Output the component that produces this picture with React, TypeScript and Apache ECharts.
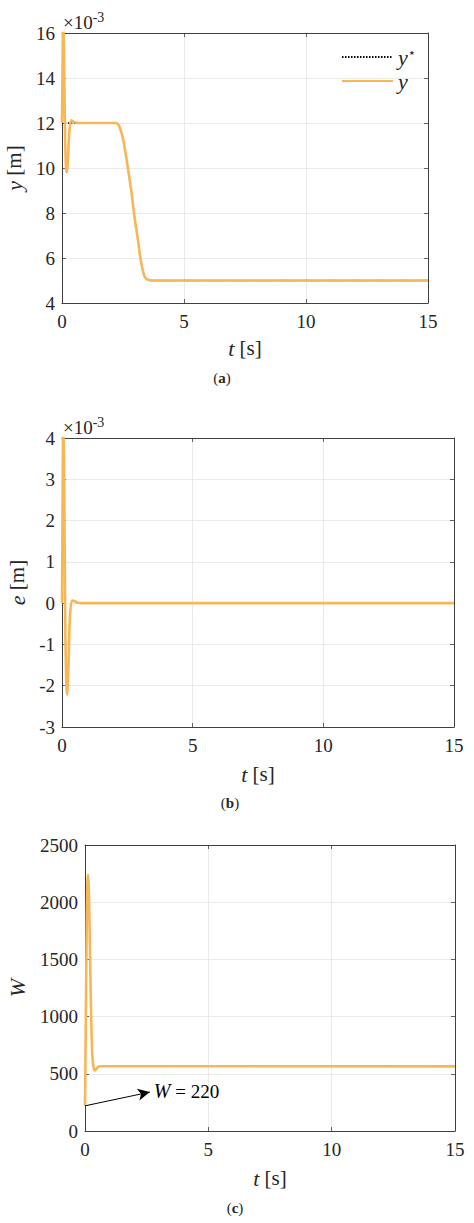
import React, { useEffect, useRef } from "react";
import * as echarts from "echarts";

// Panel (a): y and reference y* (units of 1e-3 m)
const yRefPts: [number, number][] = [
  [0, 12], [2.2, 12], [2.35, 11.85], [2.5, 11.3], [2.6, 10.7], [2.7, 10.0], [2.85, 8.9],
  [2.95, 8.0], [3.1, 6.9], [3.2, 6.1], [3.3, 5.5], [3.4, 5.15], [3.55, 5.02], [3.7, 5], [15, 5],
];
const yPts: [number, number][] = [
  [0, 12], [0.02, 14.2], [0.05, 16.8], [0.08, 15.2], [0.12, 11.8], [0.16, 10.1], [0.2, 9.8],
  [0.24, 10.3], [0.3, 11.6], [0.38, 12.12], [0.48, 12.05], [0.7, 12], [2.2, 12], [2.35, 11.85],
  [2.5, 11.3], [2.6, 10.7], [2.7, 10.0], [2.85, 8.9], [2.95, 8.0], [3.1, 6.9], [3.2, 6.1],
  [3.3, 5.5], [3.4, 5.15], [3.55, 5.02], [3.7, 5], [15, 5],
];
// Panel (b): tracking error e (units of 1e-3 m)
const ePts: [number, number][] = [
  [0, 0], [0.02, 2.2], [0.05, 4.5], [0.08, 3.2], [0.12, -0.2], [0.16, -1.9], [0.2, -2.22],
  [0.24, -1.7], [0.3, -0.4], [0.38, 0.06], [0.48, 0.05], [0.6, 0.01], [0.75, 0], [15, 0],
];
// Panel (c): W
const wPts: [number, number][] = [
  [0, 220], [0.03, 900], [0.07, 1800], [0.1, 2180], [0.13, 2240], [0.16, 2080], [0.2, 1600],
  [0.25, 1000], [0.3, 650], [0.36, 540], [0.42, 530], [0.5, 555], [0.6, 566], [15, 565],
];
const wAnnot = { from: [0, 220], to: [2.63, 340], label: "W = 220" };

const xTicks = { min: 0, max: 15, interval: 5 };
const yAxesRange = [
  { min: 4, max: 16, interval: 2 },
  { min: -3, max: 4, interval: 1 },
  { min: 0, max: 2500, interval: 500 },
];
const yNames = ["{i|y} [m]", "{i|e} [m]", "{i|W}"];

const SERIF = "'Liberation Serif', 'Times New Roman', 'DejaVu Serif', serif";
const AX = "#404040";
const TXT = "#262626";
const ORANGE = "#F8B757";
const GRIDC = "#e4e4e4";

export default function App() {
  const ref = useRef<HTMLDivElement>(null);
  useEffect(() => {
    if (!ref.current) return;
    const chart = echarts.init(ref.current, undefined, { renderer: "svg" });
    const grids = [
      { left: 62, top: 33, width: 366, height: 270, outerBoundsMode: "none", containLabel: false },
      { left: 62, top: 438, width: 392, height: 289, outerBoundsMode: "none", containLabel: false },
      { left: 85, top: 845, width: 370, height: 286, outerBoundsMode: "none", containLabel: false },
    ];
    const xNameGaps = [34, 36, 36];
    const yNameGaps = [31, 31, 57];
    const xAxis: any[] = [];
    const yAxis: any[] = [];
    const tick = { show: true, inside: true, length: 4, lineStyle: { color: AX, width: 0.8 } };
    const labelStyle = { color: TXT, fontFamily: SERIF, fontSize: 19, formatter: (v: number) => String(v) };
    const nameRich = {
      i: { fontFamily: SERIF, fontStyle: "italic", fontSize: 22, color: TXT },
    };
    grids.forEach((g, gi) => {
      const yr = yAxesRange[gi];
      xAxis.push({
        type: "value", gridIndex: gi, position: "bottom", ...xTicks,
        axisLine: { show: true, onZero: false, lineStyle: { color: AX, width: 1 } },
        axisTick: tick,
        axisLabel: { ...labelStyle, margin: 9 },
        splitLine: { show: true, lineStyle: { color: GRIDC, width: 0.8 } },
        name: "{i|t} [s]", nameLocation: "middle", nameGap: xNameGaps[gi],
        nameTextStyle: { fontFamily: SERIF, fontSize: 21, color: TXT, rich: nameRich },
      });
      xAxis.push({
        type: "value", gridIndex: gi, position: "top", ...xTicks,
        axisLine: { show: true, onZero: false, lineStyle: { color: AX, width: 1 } },
        axisTick: tick, axisLabel: { show: false }, splitLine: { show: false },
      });
      yAxis.push({
        type: "value", gridIndex: gi, position: "left", ...yr,
        axisLine: { show: true, onZero: false, lineStyle: { color: AX, width: 1 } },
        axisTick: tick,
        axisLabel: { ...labelStyle, margin: 7 },
        splitLine: { show: true, lineStyle: { color: GRIDC, width: 0.8 } },
        name: yNames[gi], nameLocation: "middle", nameRotate: 90,
        nameGap: yNameGaps[gi],
        nameTextStyle: { fontFamily: SERIF, fontSize: 21, color: TXT, rich: nameRich },
      });
      yAxis.push({
        type: "value", gridIndex: gi, position: "right", ...yr,
        axisLine: { show: true, onZero: false, lineStyle: { color: AX, width: 1 } },
        axisTick: tick, axisLabel: { show: false }, splitLine: { show: false },
      });
    });

    const base = { type: "line", symbol: "none", showSymbol: false, smooth: 0.3, clip: true };
    const series: any[] = [
      { ...base, name: "y*", data: yRefPts, xAxisIndex: 0, yAxisIndex: 0, z: 1,
        lineStyle: { color: "#000", width: 1.3, type: [1.5, 1.5] }, itemStyle: { color: "#000" } },
      { ...base, name: "y", data: yPts, xAxisIndex: 0, yAxisIndex: 0, z: 2,
        lineStyle: { color: ORANGE, width: 2.6 }, itemStyle: { color: ORANGE } },
      { ...base, name: "e", data: ePts, xAxisIndex: 2, yAxisIndex: 2, z: 2,
        lineStyle: { color: ORANGE, width: 2.6 }, itemStyle: { color: ORANGE } },
      { ...base, name: "W", data: wPts, xAxisIndex: 4, yAxisIndex: 4, z: 2,
        lineStyle: { color: ORANGE, width: 2.6 }, itemStyle: { color: ORANGE },
        markLine: {
          silent: true, symbol: ["none", "arrow"], symbolSize: [9, 12],
          lineStyle: { color: "#000", width: 1, type: "solid" },
          label: {
            show: true, position: "end", distance: 4, formatter: "{i|W} = 220",
            color: "#000", fontFamily: SERIF, fontSize: 19,
            rich: { i: { fontFamily: SERIF, fontStyle: "italic", fontSize: 20, color: "#000" } },
          },
          data: [[{ coord: wAnnot.from }, { coord: wAnnot.to }]],
        } },
    ];

    const expText = (top: number) => ({
      type: "text", left: 63, top,
      style: {
        text: "{a|×10}{b|-3}",
        rich: {
          a: { fontFamily: SERIF, fontSize: 19, fill: TXT, color: TXT, lineHeight: 20 },
          b: { fontFamily: SERIF, fontSize: 14, fill: TXT, color: TXT, lineHeight: 10, padding: [0, 0, 10, 0] },
        },
      },
    });
    const caption = (x: number, y: number, l: string) => ({
      type: "text", x, y,
      style: {
        text: "({b|" + l + "})", textAlign: "center", textVerticalAlign: "middle",
        font: "15px " + SERIF, fill: TXT,
        rich: { b: { fontFamily: SERIF, fontWeight: "bold", fontSize: 15, fill: TXT, color: TXT } },
      },
    });

    const legendCommon = {
      orient: "vertical", left: 341, padding: 0,
      itemWidth: 51, itemHeight: 14, itemGap: 0,
      itemStyle: { opacity: 0 },
      formatter: (n: string) => (n === "y*" ? "{v|y}{s|⋆}" : "{v|y}"),
      textStyle: {
        color: TXT,
        lineHeight: 22,
        rich: {
          v: { fontFamily: SERIF, fontStyle: "italic", fontSize: 22, color: TXT, lineHeight: 22 },
          s: { fontFamily: "DejaVu Sans", fontSize: 13, color: TXT, lineHeight: 13, verticalAlign: "top" },
        },
      },
    };

    chart.setOption({
      animation: false,
      backgroundColor: "#fff",
      grid: grids,
      xAxis, yAxis, series,
      legend: [
        { ...legendCommon, data: ["y*"], top: 46 },
        { ...legendCommon, data: ["y"], top: 70 },
      ],
      graphic: [
        expText(10), expText(415),
        caption(222, 378, "a"), caption(230, 803, "b"), caption(235, 1208, "c"),
      ],
    });
    return () => chart.dispose();
  }, []);
  return (
    <div ref={ref} style={{ position: "absolute", left: 0, top: 0, width: 474, height: 1223 }} />
  );
}
